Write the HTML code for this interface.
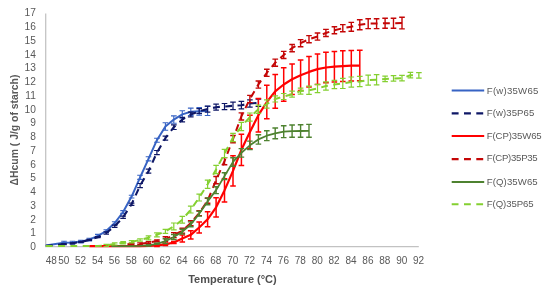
<!DOCTYPE html><html><head><meta charset="utf-8"><title>chart</title><style>
html,body{margin:0;padding:0;background:#fff}
#c{position:relative;width:550px;height:295px;overflow:hidden;background:#fff;font-family:"Liberation Sans",sans-serif;color:#595959}
.yl{position:absolute;right:514.2px;font-size:10.2px;line-height:10px;height:10px;white-space:nowrap;text-align:right}
.xl{position:absolute;top:255.6px;font-size:10px;line-height:10px;height:10px;width:20px;margin-left:-10px;text-align:center;white-space:nowrap}
.lg{position:absolute;left:486.8px;font-size:9.6px;line-height:10px;height:10px;white-space:nowrap}
#xt{position:absolute;left:188.2px;top:273px;color:#505050;font-size:11px;letter-spacing:0px;line-height:13px;font-weight:bold;white-space:nowrap}
#yt{position:absolute;left:15px;top:130px;width:0;height:0}
#yt span{position:absolute;display:block;white-space:nowrap;font-size:10.4px;line-height:12px;font-weight:bold;transform:translate(-50%,-50%) rotate(-90deg)}
</style></head><body><div id="c">
<svg width="550" height="295" viewBox="0 0 550 295" style="position:absolute;left:0;top:0">
<path d="M45.7 13.5V247.1M45.1 246.5H418.8" stroke="#C2C2C2" stroke-width="1.25" fill="none"/>
<path d="M64.0 241.3V244.0M61.2 241.3H66.8M61.2 244.0H66.8M72.5 241.2V243.9M69.7 241.2H75.2M69.7 243.9H75.2M80.9 240.2V242.9M78.1 240.2H83.7M78.1 242.9H83.7M89.3 238.3V241.0M86.5 238.3H92.1M86.5 241.0H92.1M97.8 234.4V237.2M95.0 234.4H100.6M95.0 237.2H100.6M106.2 229.7V232.5M103.5 229.7H109.0M103.5 232.5H109.0M114.7 221.8V224.5M111.9 221.8H117.5M111.9 224.5H117.5M123.1 210.6V213.4M120.3 210.6H125.9M120.3 213.4H125.9M131.6 195.2V198.0M128.8 195.2H134.4M128.8 198.0H134.4M140.1 175.3V179.4M137.2 175.3H142.9M137.2 179.4H142.9M148.5 156.7V160.9M145.7 156.7H151.3M145.7 160.9H151.3M156.9 138.2V142.3M154.1 138.2H159.8M154.1 142.3H159.8M165.4 122.8V130.2M162.6 122.8H168.2M162.6 130.2H168.2M173.8 115.9V123.3M171.0 115.9H176.7M171.0 123.3H176.7M182.3 110.7V118.1M179.5 110.7H185.1M179.5 118.1H185.1M190.8 108.1V115.5M187.9 108.1H193.6M187.9 115.5H193.6M199.2 107.6V115.1M196.4 107.6H202.0M196.4 115.1H202.0M207.6 106.4V115.5M204.8 106.4H210.4M204.8 115.5H210.4" stroke="#3763C4" stroke-width="1.1" fill="none"/>
<polyline points="45.8,245.4 55.5,244.0 64.0,242.7 72.5,242.5 80.9,241.6 89.3,239.6 97.8,235.8 106.2,231.1 114.7,223.1 123.1,212.0 131.6,196.6 140.1,177.3 148.5,158.8 156.9,140.2 165.4,126.5 173.8,119.6 182.3,114.4 190.8,111.8 199.2,111.3 207.6,110.9" stroke="#3763C4" stroke-width="2.0" fill="none" stroke-linejoin="round"/>
<path d="M64.0 243.5V244.6M61.2 243.5H66.8M61.2 244.6H66.8M72.5 242.8V243.9M69.7 242.8H75.2M69.7 243.9H75.2M80.9 241.4V242.5M78.1 241.4H83.7M78.1 242.5H83.7M89.3 239.4V240.5M86.5 239.4H92.1M86.5 240.5H92.1M97.8 236.6V237.7M95.0 236.6H100.6M95.0 237.7H100.6M106.2 231.9V234.1M103.5 231.9H109.0M103.5 234.1H109.0M114.7 225.1V227.3M111.9 225.1H117.5M111.9 227.3H117.5M123.1 216.1V218.3M120.3 216.1H125.9M120.3 218.3H125.9M131.6 203.1V205.3M128.8 203.1H134.4M128.8 205.3H134.4M140.1 183.5V187.7M137.2 183.5H142.9M137.2 187.7H142.9M148.5 169.1V173.2M145.7 169.1H151.3M145.7 173.2H151.3M156.9 150.5V154.7M154.1 150.5H159.8M154.1 154.7H159.8M165.4 136.1V140.2M162.6 136.1H168.2M162.6 140.2H168.2M173.8 124.8V129.5M171.0 124.8H176.7M171.0 129.5H176.7M182.3 117.3V121.9M179.5 117.3H185.1M179.5 121.9H185.1M190.8 112.2V116.8M187.9 112.2H193.6M187.9 116.8H193.6M199.2 108.7V113.4M196.4 108.7H202.0M196.4 113.4H202.0M207.6 106.1V112.2M204.8 106.1H210.4M204.8 112.2H210.4M216.1 104.2V110.2M213.3 104.2H218.9M213.3 110.2H218.9M224.5 103.5V109.6M221.7 103.5H227.3M221.7 109.6H227.3M233.0 102.1V109.6M230.2 102.1H235.8M230.2 109.6H235.8M241.4 101.4V108.9M238.6 101.4H244.2M238.6 108.9H244.2M249.9 99.8V107.2M247.1 99.8H252.7M247.1 107.2H252.7M258.4 99.1V106.5M255.6 99.1H261.2M255.6 106.5H261.2" stroke="#0E1766" stroke-width="1.2" fill="none"/>
<polyline points="45.8,245.7 55.5,245.0 64.0,244.0 72.5,243.3 80.9,242.0 89.3,239.9 97.8,237.2 106.2,233.0 114.7,226.2 123.1,217.2 131.6,204.2 140.1,185.6 148.5,171.2 156.9,152.6 165.4,138.2 173.8,127.2 182.3,119.6 190.8,114.5 199.2,111.1 207.6,109.1 216.1,107.2 224.5,106.5 233.0,105.8 241.4,105.2 249.9,103.5 258.4,102.8" stroke="#0E1766" stroke-width="2.1" fill="none" stroke-linejoin="round" stroke-dasharray="6.9 5.4"/>
<path d="M156.9 244.3V246.5M154.1 244.3H159.8M154.1 246.5H159.8M165.4 243.3V245.5M162.6 243.3H168.2M162.6 245.5H168.2M173.8 241.4V243.6M171.0 241.4H176.7M171.0 243.6H176.7M182.3 235.1V242.0M179.5 235.1H185.1M179.5 242.0H185.1M190.8 230.7V238.9M187.9 230.7H193.6M187.9 238.9H193.6M199.2 222.0V233.0M196.4 222.0H202.0M196.4 233.0H202.0M207.6 211.7V226.8M204.8 211.7H210.4M204.8 226.8H210.4M216.1 197.7V216.9M213.3 197.7H218.9M213.3 216.9H218.9M224.5 178.7V202.1M221.7 178.7H227.3M221.7 202.1H227.3M233.0 155.8V186.0M230.2 155.8H235.8M230.2 186.0H235.8M241.4 134.3V165.4M238.6 134.3H244.2M238.6 165.4H244.2M249.9 115.2V148.8M247.1 115.2H252.7M247.1 148.8H252.7M258.4 98.4V132.0M255.6 98.4H261.2M255.6 132.0H261.2M266.8 85.2V118.8M264.0 85.2H269.6M264.0 118.8H269.6M275.2 74.6V108.2M272.4 74.6H278.1M272.4 108.2H278.1M283.7 67.8V101.3M280.9 67.8H286.5M280.9 101.3H286.5M292.1 64.0V94.6M289.3 64.0H294.9M289.3 94.6H294.9M300.6 60.1V90.6M297.8 60.1H303.4M297.8 90.6H303.4M309.0 56.6V87.1M306.2 56.6H311.8M306.2 87.1H311.8M317.5 53.9V84.4M314.7 53.9H320.3M314.7 84.4H320.3M325.9 52.2V82.7M323.1 52.2H328.8M323.1 82.7H328.8M334.4 51.4V81.9M331.6 51.4H337.2M331.6 81.9H337.2M342.8 50.8V81.4M340.0 50.8H345.6M340.0 81.4H345.6M351.3 50.4V81.0M348.5 50.4H354.1M348.5 81.0H354.1M359.8 50.3V80.8M356.9 50.3H362.6M356.9 80.8H362.6" stroke="#FF0000" stroke-width="1.5" fill="none"/>
<polyline points="89.3,246.1 97.8,246.1 106.2,246.1 114.7,246.1 123.1,246.1 131.6,246.1 140.1,246.1 148.5,245.8 156.9,245.4 165.4,244.4 173.8,242.5 182.3,238.5 190.8,234.8 199.2,227.5 207.6,219.3 216.1,207.3 224.5,190.4 233.0,170.9 241.4,149.8 249.9,132.0 258.4,115.2 266.8,102.0 275.2,91.4 283.7,84.5 292.1,79.3 300.6,75.3 309.0,71.9 317.5,69.1 325.9,67.5 334.4,66.7 342.8,66.1 351.3,65.7 359.8,65.6" stroke="#FF0000" stroke-width="2.2" fill="none" stroke-linejoin="round"/>
<path d="M131.6 243.2V244.9M128.8 243.2H134.4M128.8 244.9H134.4M140.1 242.9V244.6M137.2 242.9H142.9M137.2 244.6H142.9M148.5 241.8V243.5M145.7 241.8H151.3M145.7 243.5H151.3M156.9 240.0V241.7M154.1 240.0H159.8M154.1 241.7H159.8M165.4 236.8V241.7M162.6 236.8H168.2M162.6 241.7H168.2M173.8 232.6V237.6M171.0 232.6H176.7M171.0 237.6H176.7M182.3 228.2V233.2M179.5 228.2H185.1M179.5 233.2H185.1M190.8 220.7V225.6M187.9 220.7H193.6M187.9 225.6H193.6M199.2 210.6V215.6M196.4 210.6H202.0M196.4 215.6H202.0M207.6 198.2V203.2M204.8 198.2H210.4M204.8 203.2H210.4M216.1 176.5V183.7M213.3 176.5H218.9M213.3 183.7H218.9M224.5 157.6V164.7M221.7 157.6H227.3M221.7 164.7H227.3M233.0 135.5V142.7M230.2 135.5H235.8M230.2 142.7H235.8M241.4 112.9V120.0M238.6 112.9H244.2M238.6 120.0H244.2M249.9 95.4V102.6M247.1 95.4H252.7M247.1 102.6H252.7M258.4 81.0V88.1M255.6 81.0H261.2M255.6 88.1H261.2M266.8 69.3V76.4M264.0 69.3H269.6M264.0 76.4H269.6M275.2 59.1V66.2M272.4 59.1H278.1M272.4 66.2H278.1M283.7 51.4V58.5M280.9 51.4H286.5M280.9 58.5H286.5M292.1 44.5V51.7M289.3 44.5H294.9M289.3 51.7H294.9M300.6 39.6V46.7M297.8 39.6H303.4M297.8 46.7H303.4M309.0 35.6V42.7M306.2 35.6H311.8M306.2 42.7H311.8M317.5 33.0V40.1M314.7 33.0H320.3M314.7 40.1H320.3M325.9 29.4V36.5M323.1 29.4H328.8M323.1 36.5H328.8M334.4 26.7V33.8M331.6 26.7H337.2M331.6 33.8H337.2M342.8 24.6V31.7M340.0 24.6H345.6M340.0 31.7H345.6M351.3 22.4V31.2M348.5 22.4H354.1M348.5 31.2H354.1M359.8 19.8V29.7M356.9 19.8H362.6M356.9 29.7H362.6M368.2 18.7V28.6M365.4 18.7H371.0M365.4 28.6H371.0M376.6 18.7V28.6M373.8 18.7H379.4M373.8 28.6H379.4M385.1 18.3V28.2M382.3 18.3H387.9M382.3 28.2H387.9M393.5 18.3V28.2M390.7 18.3H396.3M390.7 28.2H396.3M402.0 17.3V28.9M399.2 17.3H404.8M399.2 28.9H404.8" stroke="#C40606" stroke-width="1.4" fill="none"/>
<polyline points="127.4,244.3 131.6,244.0 140.1,243.8 148.5,242.7 156.9,240.9 165.4,239.2 173.8,235.1 182.3,230.7 190.8,223.1 199.2,213.1 207.6,200.7 216.1,180.1 224.5,161.1 233.0,139.1 241.4,116.4 249.9,99.0 258.4,84.5 266.8,72.8 275.2,62.7 283.7,55.0 292.1,48.1 300.6,43.2 309.0,39.2 317.5,36.5 325.9,33.0 334.4,30.2 342.8,28.2 351.3,26.8 359.8,24.7 368.2,23.6 376.6,23.6 385.1,23.2 393.5,23.2 402.0,23.1" stroke="#C40606" stroke-width="2.0" fill="none" stroke-linejoin="round" stroke-dasharray="6.9 5.4"/>
<path d="M148.5 244.6V246.0M145.7 244.6H151.3M145.7 246.0H151.3M156.9 243.1V244.4M154.1 243.1H159.8M154.1 244.4H159.8M165.4 238.7V243.6M162.6 238.7H168.2M162.6 243.6H168.2M173.8 234.5V239.5M171.0 234.5H176.7M171.0 239.5H176.7M182.3 229.2V234.1M179.5 229.2H185.1M179.5 234.1H185.1M190.8 221.9V226.8M187.9 221.9H193.6M187.9 226.8H193.6M199.2 211.2V216.1M196.4 211.2H202.0M196.4 216.1H202.0M207.6 198.0V204.8M204.8 198.0H210.4M204.8 204.8H210.4M216.1 186.7V193.6M213.3 186.7H218.9M213.3 193.6H218.9M224.5 172.7V179.6M221.7 172.7H227.3M221.7 179.6H227.3M233.0 157.7V166.2M230.2 157.7H235.8M230.2 166.2H235.8M241.4 148.6V157.1M238.6 148.6H244.2M238.6 157.1H244.2M249.9 141.1V149.6M247.1 141.1H252.7M247.1 149.6H252.7M258.4 134.7V144.1M255.6 134.7H261.2M255.6 144.1H261.2M266.8 130.7V140.6M264.0 130.7H269.6M264.0 140.6H269.6M275.2 128.0V138.7M272.4 128.0H278.1M272.4 138.7H278.1M283.7 125.8V137.6M280.9 125.8H286.5M280.9 137.6H286.5M292.1 125.0V137.3M289.3 125.0H294.9M289.3 137.3H294.9M300.6 124.7V137.3M297.8 124.7H303.4M297.8 137.3H303.4M309.0 124.4V137.3M306.2 124.4H311.8M306.2 137.3H311.8" stroke="#4E8230" stroke-width="1.4" fill="none"/>
<polyline points="111.3,246.1 114.7,246.1 123.1,246.1 131.6,246.1 140.1,245.8 148.5,245.3 156.9,243.8 165.4,241.2 173.8,237.0 182.3,231.7 190.8,224.4 199.2,213.7 207.6,201.4 216.1,190.1 224.5,176.1 233.0,161.9 241.4,152.9 249.9,145.3 258.4,139.4 266.8,135.7 275.2,133.4 283.7,131.7 292.1,131.2 300.6,131.0 309.0,130.9" stroke="#4E8230" stroke-width="1.8" fill="none" stroke-linejoin="round"/>
<path d="M106.2 244.3V246.5M103.5 244.3H109.0M103.5 246.5H109.0M114.7 242.8V245.0M111.9 242.8H117.5M111.9 245.0H117.5M123.1 241.7V243.9M120.3 241.7H125.9M120.3 243.9H125.9M131.6 240.6V242.8M128.8 240.6H134.4M128.8 242.8H134.4M140.1 238.9V241.2M137.2 238.9H142.9M137.2 241.2H142.9M148.5 235.8V239.9M145.7 235.8H151.3M145.7 239.9H151.3M156.9 232.8V236.9M154.1 232.8H159.8M154.1 236.9H159.8M165.4 229.3V233.4M162.6 229.3H168.2M162.6 233.4H168.2M173.8 223.0V229.9M171.0 223.0H176.7M171.0 229.9H176.7M182.3 216.3V223.1M179.5 216.3H185.1M179.5 223.1H185.1M190.8 206.1V213.0M187.9 206.1H193.6M187.9 213.0H193.6M199.2 194.1V201.0M196.4 194.1H202.0M196.4 201.0H202.0M207.6 180.1V188.3M204.8 180.1H210.4M204.8 188.3H210.4M216.1 165.4V173.6M213.3 165.4H218.9M213.3 173.6H218.9M224.5 149.4V157.7M221.7 149.4H227.3M221.7 157.7H227.3M233.0 133.3V141.6M230.2 133.3H235.8M230.2 141.6H235.8M241.4 122.3V130.6M238.6 122.3H244.2M238.6 130.6H244.2M249.9 113.0V121.2M247.1 113.0H252.7M247.1 121.2H252.7M258.4 105.2V113.4M255.6 105.2H261.2M255.6 113.4H261.2M266.8 99.9V108.2M264.0 99.9H269.6M264.0 108.2H269.6M275.2 95.9V102.0M272.4 95.9H278.1M272.4 102.0H278.1M283.7 93.5V99.5M280.9 93.5H286.5M280.9 99.5H286.5M292.1 91.1V97.2M289.3 91.1H294.9M289.3 97.2H294.9M300.6 88.1V94.2M297.8 88.1H303.4M297.8 94.2H303.4M309.0 86.2V94.4M306.2 86.2H311.8M306.2 94.4H311.8M317.5 84.4V92.7M314.7 84.4H320.3M314.7 92.7H320.3M325.9 81.9V90.2M323.1 81.9H328.8M323.1 90.2H328.8M334.4 80.4V88.7M331.6 80.4H337.2M331.6 88.7H337.2M342.8 78.3V88.5M340.0 78.3H345.6M340.0 88.5H345.6M351.3 77.0V87.1M348.5 77.0H354.1M348.5 87.1H354.1M359.8 76.4V86.6M356.9 76.4H362.6M356.9 86.6H362.6M368.2 75.1V85.2M365.4 75.1H371.0M365.4 85.2H371.0M376.6 74.6V84.8M373.8 74.6H379.4M373.8 84.8H379.4M385.1 76.2V81.6M382.3 76.2H387.9M382.3 81.6H387.9M393.5 75.7V81.2M390.7 75.7H396.3M390.7 81.2H396.3M402.0 75.3V80.8M399.2 75.3H404.8M399.2 80.8H404.8M410.4 72.4V77.9M407.6 72.4H413.2M407.6 77.9H413.2M418.9 72.6V78.1M416.1 72.6H421.7M416.1 78.1H421.7" stroke="#84D030" stroke-width="1.2" fill="none"/>
<polyline points="45.8,246.1 55.5,246.1 64.0,246.1 72.5,246.1 80.9,246.1 89.3,246.1 97.8,246.0 106.2,245.4 114.7,243.9 123.1,242.8 131.6,241.7 140.1,240.0 148.5,237.8 156.9,234.8 165.4,231.4 173.8,226.4 182.3,219.7 190.8,209.5 199.2,197.6 207.6,184.2 216.1,169.5 224.5,153.6 233.0,137.5 241.4,126.5 249.9,117.1 258.4,109.3 266.8,104.1 275.2,99.0 283.7,96.5 292.1,94.2 300.6,91.1 309.0,90.3 317.5,88.5 325.9,86.0 334.4,84.5 342.8,83.4 351.3,82.1 359.8,81.5 368.2,80.1 376.6,79.7 385.1,78.9 393.5,78.5 402.0,78.1 410.4,75.2 418.9,75.3" stroke="#84D030" stroke-width="2.0" fill="none" stroke-linejoin="round" stroke-dasharray="6.8 5.5"/>
<line x1="451.7" y1="90.5" x2="484.2" y2="90.5" stroke="#3763C4" stroke-width="2.0"/>
<line x1="451.7" y1="113.4" x2="484.2" y2="113.4" stroke="#0E1766" stroke-width="2.1" stroke-dasharray="6.9 5.4"/>
<line x1="451.7" y1="136.0" x2="484.2" y2="136.0" stroke="#FF0000" stroke-width="2.2"/>
<line x1="451.7" y1="159.1" x2="484.2" y2="159.1" stroke="#C40606" stroke-width="2.1" stroke-dasharray="6.9 5.4"/>
<line x1="451.7" y1="181.9" x2="484.2" y2="181.9" stroke="#4E8230" stroke-width="2.0"/>
<line x1="451.7" y1="204.3" x2="484.2" y2="204.3" stroke="#84D030" stroke-width="1.9" stroke-dasharray="6.8 5.5"/>
</svg>
<div class="yl" style="top:242.0px">0</div>
<div class="yl" style="top:228.2px">1</div>
<div class="yl" style="top:214.5px">2</div>
<div class="yl" style="top:200.8px">3</div>
<div class="yl" style="top:187.0px">4</div>
<div class="yl" style="top:173.2px">5</div>
<div class="yl" style="top:159.5px">6</div>
<div class="yl" style="top:145.8px">7</div>
<div class="yl" style="top:132.0px">8</div>
<div class="yl" style="top:118.2px">9</div>
<div class="yl" style="top:104.5px">10</div>
<div class="yl" style="top:90.8px">11</div>
<div class="yl" style="top:77.0px">12</div>
<div class="yl" style="top:63.2px">13</div>
<div class="yl" style="top:49.5px">14</div>
<div class="yl" style="top:35.7px">15</div>
<div class="yl" style="top:22.0px">16</div>
<div class="yl" style="top:8.2px">17</div>
<div class="xl" style="left:51.3px">48</div>
<div class="xl" style="left:63.7px">50</div>
<div class="xl" style="left:80.6px">52</div>
<div class="xl" style="left:97.5px">54</div>
<div class="xl" style="left:114.4px">56</div>
<div class="xl" style="left:131.3px">58</div>
<div class="xl" style="left:148.2px">60</div>
<div class="xl" style="left:165.1px">62</div>
<div class="xl" style="left:182.0px">64</div>
<div class="xl" style="left:198.9px">66</div>
<div class="xl" style="left:215.8px">68</div>
<div class="xl" style="left:232.7px">70</div>
<div class="xl" style="left:249.6px">72</div>
<div class="xl" style="left:266.5px">74</div>
<div class="xl" style="left:283.4px">76</div>
<div class="xl" style="left:300.3px">78</div>
<div class="xl" style="left:317.2px">80</div>
<div class="xl" style="left:334.1px">82</div>
<div class="xl" style="left:351.0px">84</div>
<div class="xl" style="left:367.9px">86</div>
<div class="xl" style="left:384.8px">88</div>
<div class="xl" style="left:401.7px">90</div>
<div class="xl" style="left:418.6px">92</div>
<div class="lg" style="top:85.5px;letter-spacing:0.24px">F(w)35W65</div>
<div class="lg" style="top:108.1px;letter-spacing:0.07px">F(w)35P65</div>
<div class="lg" style="top:130.5px;letter-spacing:-0.12px">F(CP)35W65</div>
<div class="lg" style="top:153.4px;letter-spacing:-0.27px">F(CP)35P35</div>
<div class="lg" style="top:176.5px;letter-spacing:0.1px">F(Q)35W65</div>
<div class="lg" style="top:199.0px;letter-spacing:-0.08px">F(Q)35P65</div>
<div id="xt">Temperature (°C)</div>
<div id="yt"><span>ΔHcum ( J/g of starch)</span></div>
</div></body></html>
